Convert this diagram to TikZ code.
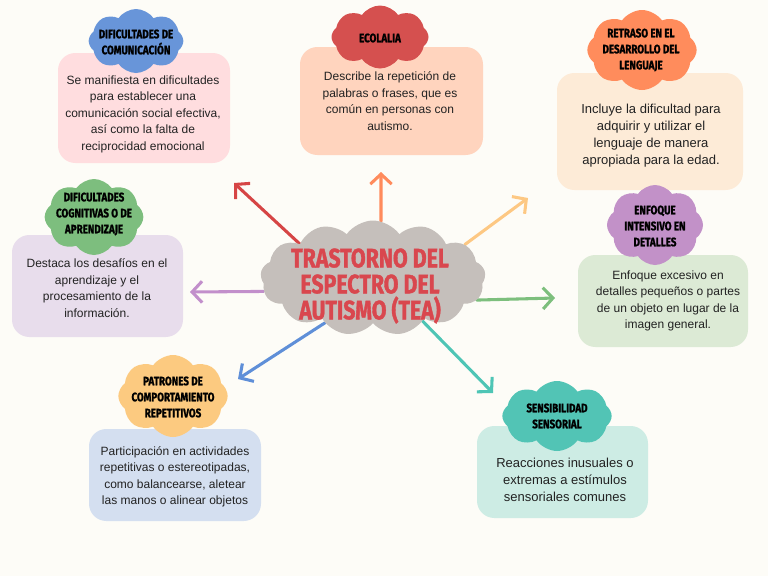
\documentclass[tikz,border=0pt]{standalone}
\usepackage{fontspec}
\setmainfont{Liberation Sans}
\newfontfamily\headfont[FakeStretch=0.8, BoldFeatures={FakeBold=1.3}]{Fira Sans}
\usetikzlibrary{shapes.symbols,arrows.meta}
\pgfdeclarelayer{bglayer}
\pgfdeclarelayer{back}
\pgfsetlayers{bglayer,back,main}
\definecolor{bgc}{RGB}{253,252,247}
\definecolor{txt}{RGB}{34,34,34}
\definecolor{titleC}{RGB}{217,71,78}
\definecolor{grayC}{RGB}{197,191,187}
\definecolor{box1}{RGB}{255,221,223}
\definecolor{cl1}{RGB}{104,149,217}
\definecolor{box2}{RGB}{255,212,190}
\definecolor{cl2}{RGB}{213,80,79}
\definecolor{box3}{RGB}{253,235,215}
\definecolor{cl3}{RGB}{255,140,92}
\definecolor{box4}{RGB}{220,234,213}
\definecolor{cl4}{RGB}{194,145,200}
\definecolor{box5}{RGB}{232,221,236}
\definecolor{cl5}{RGB}{125,190,126}
\definecolor{box6}{RGB}{212,223,240}
\definecolor{cl6}{RGB}{252,202,128}
\definecolor{box7}{RGB}{205,236,228}
\definecolor{cl7}{RGB}{82,196,181}
\definecolor{aRed}{RGB}{214,69,69}
\definecolor{aOrange}{RGB}{255,139,92}
\definecolor{aYellow}{RGB}{253,200,131}
\definecolor{aPurple}{RGB}{194,143,203}
\definecolor{aGreen}{RGB}{125,191,125}
\definecolor{aBlue}{RGB}{95,143,216}
\definecolor{aTeal}{RGB}{78,197,181}
\begin{document}
\begin{tikzpicture}[x=0.75pt,y=-0.75pt,
  box/.style={rounded corners=13pt, inner sep=0pt},
  cl/.style={cloud, cloud puffs=8, cloud puff arc=110, inner sep=0pt},
  body/.style={align=center, font=\fontsize{9}{12.4}\selectfont, text=txt, inner sep=0pt},
  bodyL/.style={align=center, font=\fontsize{9.75}{12.8}\selectfont, text=txt, inner sep=0pt},
  head/.style={align=center, font=\headfont\bfseries\fontsize{9.2}{12}\selectfont, text=black, inner sep=0pt},
  arr/.style={line width=2.3pt, line cap=round, line join=round, -{Straight Barb[length=7.5pt,width=16pt]}}
]
\begin{pgfonlayer}{bglayer}
\fill[bgc] (0,0) rectangle (768,576);
\end{pgfonlayer}
\useasboundingbox (0,0) rectangle (768,576);

% arrow end points
\coordinate (e1) at (234,183);
\coordinate (e2) at (381,172);
\coordinate (e3) at (528,198);
\coordinate (e4) at (190,292);
\coordinate (e5) at (555,298);
\coordinate (e6) at (238,379);
\coordinate (e7) at (493,393);

% boxes
\node[box, fill=box1, minimum width=129pt, minimum height=82.5pt] (b1) at (144,108) {};
\node[box, fill=box2, minimum width=137.25pt, minimum height=81pt] (b2) at (391.5,101) {};
\node[box, fill=box3, minimum width=139.5pt, minimum height=87.75pt] (b3) at (650,131.5) {};
\node[box, fill=box4, minimum width=127.5pt, minimum height=69pt] (b4) at (663,301) {};
\node[box, fill=box5, minimum width=128.25pt, minimum height=76.5pt] (b5) at (97.5,286) {};
\node[box, fill=box6, minimum width=129pt, minimum height=69pt] (b6) at (175,475) {};
\node[box, fill=box7, minimum width=128.25pt, minimum height=69pt] (b7) at (562.5,472) {};

% body texts
\node[body] (t1) at (143,114) {Se manifiesta en dificultades\\para establecer una\\comunicación social efectiva,\\así como la falta de\\reciprocidad emocional};
\node[body] (t2) at (390,101) {Describe la repetición de\\palabras o frases, que es\\común en personas con\\autismo.};
\node[bodyL] (t3) at (651,136) {Incluye la dificultad para\\adquirir y utilizar el\\lenguaje de manera\\apropiada para la edad.};
\node[body] (t4) at (668,301) {Enfoque excesivo en\\detalles pequeños o partes\\de un objeto en lugar de la\\imagen general.};
\node[body] (t5) at (97,288) {Destaca los desafíos en el\\aprendizaje y el\\procesamiento de la\\información.};
\node[body] (t6) at (175,477) {Participación en actividades\\repetitivas o estereotipadas,\\como balancearse, aletear\\las manos o alinear objetos};
\node[bodyL] (t7) at (565,480) {Reacciones inusuales o\\extremas a estímulos\\sensoriales comunes};

% clouds
\node[cl, fill=cl1, minimum width=71pt, minimum height=48pt] (c1) at (136,41) {};
\node[cl, fill=cl2, minimum width=72.75pt, minimum height=47.25pt] (c2) at (380,37) {};
\node[cl, fill=cl3, minimum width=82pt, minimum height=60pt] (c3) at (642,50) {};
\node[cl, fill=cl4, minimum width=72pt, minimum height=60pt] (c4) at (655,225) {};
\node[cl, fill=cl5, minimum width=74pt, minimum height=57pt] (c5) at (94,217) {};
\node[cl, fill=cl6, minimum width=82pt, minimum height=61.5pt] (c6) at (173,396) {};
\node[cl, fill=cl7, minimum width=82pt, minimum height=52.5pt] (c7) at (557,416) {};

\node[head] (h1) at (136,42) {DIFICULTADES DE\\COMUNICACIÓN};
\node[head] (h2) at (380,38) {ECOLALIA};
\node[head] (h3) at (641,50) {RETRASO EN EL\\DESARROLLO DEL\\LENGUAJE};
\node[head] (h4) at (655,226) {ENFOQUE\\INTENSIVO EN\\DETALLES};
\node[head] (h5) at (94,214) {DIFICULTADES\\COGNITIVAS O DE\\APRENDIZAJE};
\node[head] (h6) at (173,397) {PATRONES DE\\COMPORTAMIENTO\\REPETITIVOS};
\node[head] (h7) at (557,416) {SENSIBILIDAD\\SENSORIAL};

% central cloud
\node[cloud, cloud puffs=13, cloud puff arc=110, inner sep=0pt, fill=grayC, minimum width=168.75pt, minimum height=86.25pt] (tea) at (373,278) {};
\node[align=center, inner sep=0pt, text=titleC, font=\headfont\bfseries\fontsize{20}{19.5}\selectfont] (title) at (370,286) {TRASTORNO DEL\\ESPECTRO DEL\\AUTISMO (TEA)};

% arrows
\begin{pgfonlayer}{back}
\draw[arr, aRed] (tea.155) -- (e1);
\draw[arr, aOrange] (tea.82) -- (e2);
\draw[arr, aYellow] (tea.20) -- (e3);
\draw[arr, aPurple] (tea.187) -- (e4);
\draw[arr, aGreen] (tea.348) -- (e5);
\draw[arr, aBlue] (tea.223) -- (e6);
\draw[arr, aTeal] (tea.319) -- (e7);
\end{pgfonlayer}
\end{tikzpicture}
\end{document}
